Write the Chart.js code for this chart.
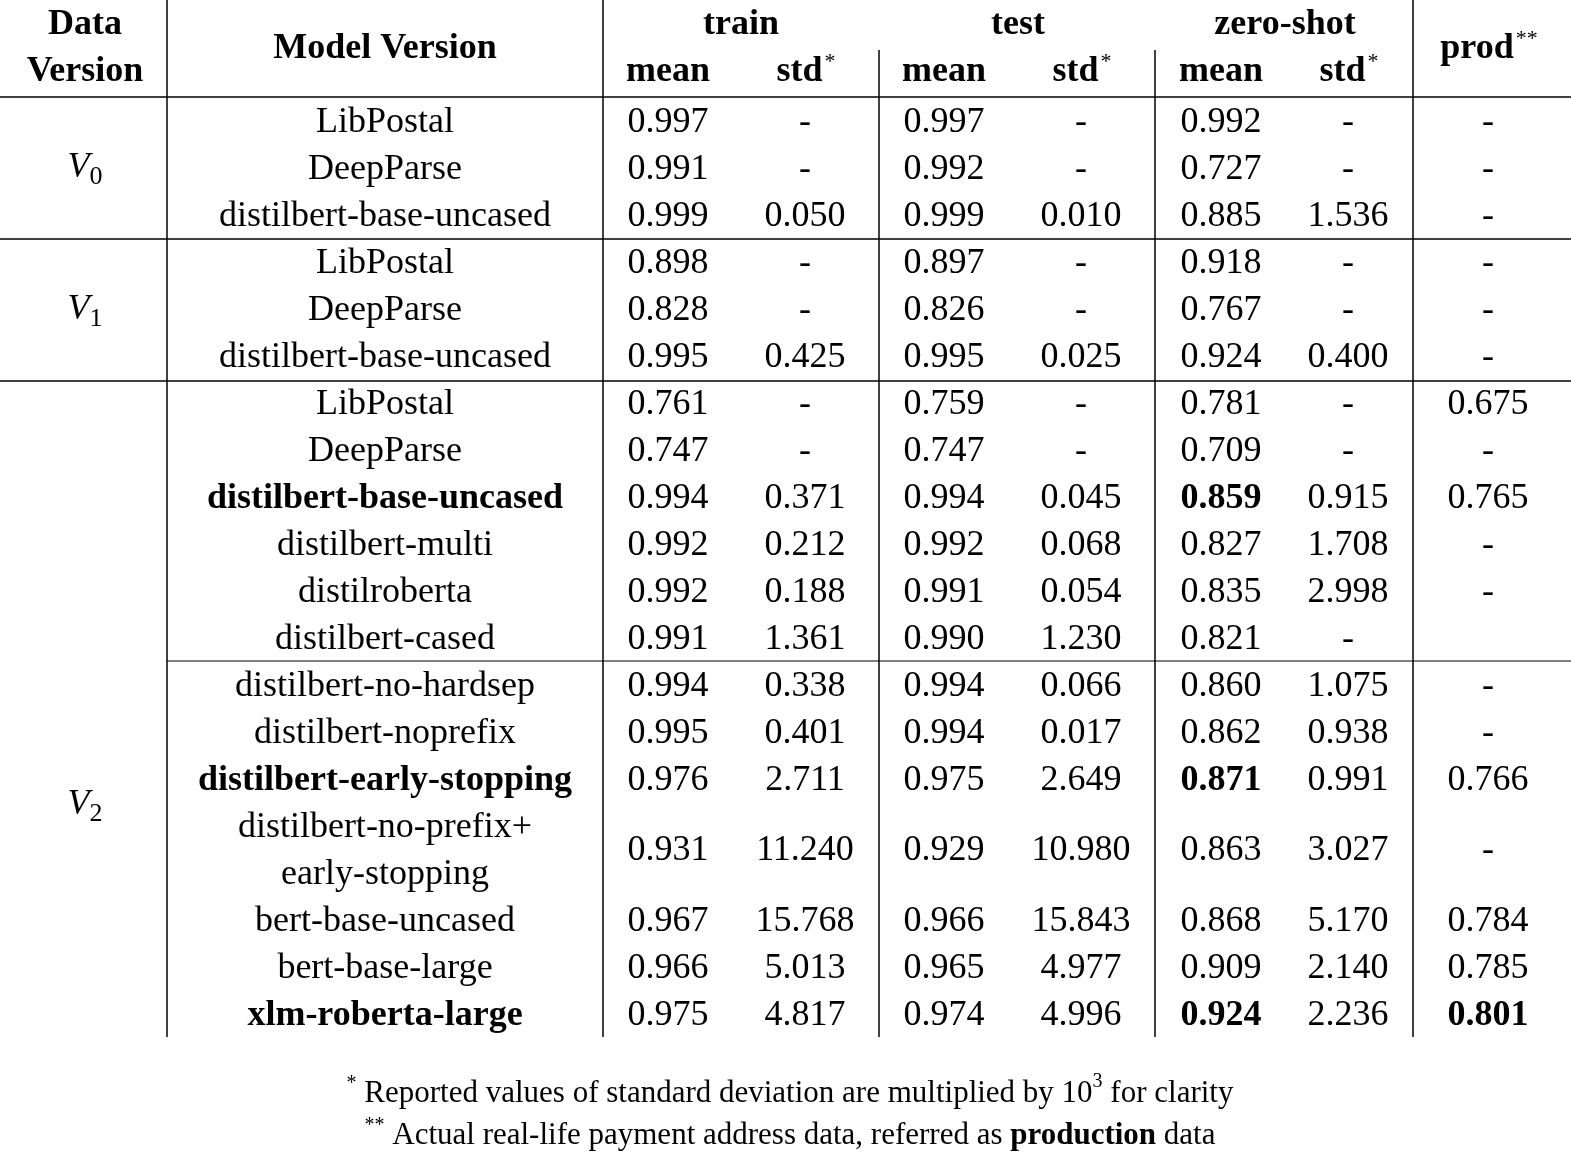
<!DOCTYPE html>
<html><head><meta charset="utf-8">
<script src="https://cdn.jsdelivr.net/npm/chart.js@4"></script>
<style>html,body{margin:0;padding:0;background:#fff}#w{width:1571px;height:1155px}</style>
</head><body><div id="w"><canvas id="c"></canvas></div>
<script>
const dataVersions = ["V0","V1","V2"];
const models = ["LibPostal","DeepParse","distilbert-base-uncased","LibPostal","DeepParse","distilbert-base-uncased","LibPostal","DeepParse","distilbert-base-uncased","distilbert-multi","distilroberta","distilbert-cased","distilbert-no-hardsep","distilbert-noprefix","distilbert-early-stopping","distilbert-no-prefix+\nearly-stopping","bert-base-uncased","bert-base-large","xlm-roberta-large"];
const versionOfRow = [0,0,0,1,1,1,2,2,2,2,2,2,2,2,2,2,2,2,2];
const trainMean = [0.997,0.991,0.999,0.898,0.828,0.995,0.761,0.747,0.994,0.992,0.992,0.991,0.994,0.995,0.976,0.931,0.967,0.966,0.975];
const trainStd = [null,null,0.050,null,null,0.425,null,null,0.371,0.212,0.188,1.361,0.338,0.401,2.711,11.240,15.768,5.013,4.817];
const testMean = [0.997,0.992,0.999,0.897,0.826,0.995,0.759,0.747,0.994,0.992,0.991,0.990,0.994,0.994,0.975,0.929,0.966,0.965,0.974];
const testStd = [null,null,0.010,null,null,0.025,null,null,0.045,0.068,0.054,1.230,0.066,0.017,2.649,10.980,15.843,4.977,4.996];
const zsMean = [0.992,0.727,0.885,0.918,0.767,0.924,0.781,0.709,0.859,0.827,0.835,0.821,0.860,0.862,0.871,0.863,0.868,0.909,0.924];
const zsStd = [null,null,1.536,null,null,0.400,null,null,0.915,1.708,2.998,null,1.075,0.938,0.991,3.027,5.170,2.140,2.236];
const prod = [null,null,null,null,null,null,0.675,null,0.765,null,null,"",null,null,0.766,null,0.784,0.785,0.801];
const boldModelRows = [8,14,18];
const boldZsRows = [8,14,18];
const boldProdRows = [18];

const F = "'Liberation Serif', 'DejaVu Serif', serif";
const FS = 36;
const colX = [85,385,668,805,944,1081,1221,1348,1488];
const vLines = [167,603,879,1155,1413];
const versionLabelY = [168,310,805];
const rowH = r => models[r].includes("\n") ? 94 : 47;

const tablePlugin = {
  id:'table',
  afterDraw(chart){
    const ctx = chart.ctx, xs = chart.scales.x, ys = chart.scales.y;
    const X = v => xs.getPixelForValue(v), Y = v => ys.getPixelForValue(v);
    ctx.save();
    ctx.fillStyle = '#000'; ctx.strokeStyle = '#000';
    ctx.textAlign='center'; ctx.textBaseline='middle';
    const txt = (s,x,y,bold,size=FS)=>{ctx.font=(bold?'bold ':'')+size+'px '+F; ctx.fillText(s,X(x),Y(y+2));};
    const line=(x1,y1,x2,y2,w=1.5)=>{ctx.lineWidth=w;ctx.beginPath();ctx.moveTo(X(x1),Y(y1));ctx.lineTo(X(x2),Y(y2));ctx.stroke();};
    const withSup=(base,sup,x,y)=>{
      ctx.font='bold '+FS+'px '+F; const w1=ctx.measureText(base).width;
      ctx.font='22px '+F; const w2=ctx.measureText(sup).width;
      const sx=X(x)-(w1+w2)/2;
      ctx.textAlign='left';
      ctx.font='bold '+FS+'px '+F; ctx.fillText(base,sx,Y(y+2));
      ctx.font='22px '+F; ctx.fillText(sup,sx+w1+2,Y(y)-8);
      ctx.textAlign='center';
    };
    txt('Data',colX[0],23,true); txt('Version',colX[0],70,true);
    txt('Model Version',colX[1],47,true);
    txt('train',741,23,true); txt('test',1018,23,true); txt('zero-shot',1285,23,true);
    withSup('prod','**',colX[8],47);
    [[2,3],[4,5],[6,7]].forEach(([a,b])=>{txt('mean',colX[a],70,true); withSup('std','*',colX[b],70);});
    line(0,97,1571,97);
    let top=97; const tops=[];
    models.forEach((m,r)=>{
      tops.push(top);
      const h=rowH(r), c=top+h/2;
      const parts=m.split("\n");
      if(parts.length>1){ txt(parts[0],colX[1],c-23,false); txt(parts[1],colX[1],c+24,false);}
      else txt(m,colX[1],c,boldModelRows.includes(r));
      const f=v=>v===null?'-':(v===''?'':v.toFixed(3));
      txt(f(trainMean[r]),colX[2],c); txt(f(trainStd[r]),colX[3],c);
      txt(f(testMean[r]),colX[4],c); txt(f(testStd[r]),colX[5],c);
      txt(f(zsMean[r]),colX[6],c,boldZsRows.includes(r)); txt(f(zsStd[r]),colX[7],c);
      txt(f(prod[r]),colX[8],c,boldProdRows.includes(r));
      top+=h;
    });
    const bottom=top;
    dataVersions.forEach((v,i)=>{
      const rs=versionOfRow.map((g,r)=>g===i?r:-1).filter(r=>r>=0);
      const t0=tops[rs[0]];
      const cy=versionLabelY[i];
      ctx.font='italic '+FS+'px '+F; const w1=ctx.measureText('V').width;
      ctx.font='26px '+F; const w2=ctx.measureText(v[1]).width;
      const sx=X(colX[0])-(w1+w2)/2; ctx.textAlign='left';
      ctx.font='italic '+FS+'px '+F; ctx.fillText('V',sx,Y(cy));
      ctx.font='26px '+F; ctx.fillText(v[1],sx+w1,Y(cy)+9); ctx.textAlign='center';
      if(i>0) line(0,t0+(i===2?2:1),1571,t0+(i===2?2:1));
    });
    line(167,tops[12],1571,tops[12],1);
    line(vLines[0],0,vLines[0],bottom);
    for(let i=1;i<vLines.length;i++) line(vLines[i],50,vLines[i],bottom);
    line(vLines[1],0,vLines[1],50); line(vLines[4],0,vLines[4],50);
    const FF=31;
    ctx.font=FF+'px '+F;
    const p1=' Reported values of standard deviation are multiplied by 10', p3=' for clarity';
    let w=ctx.measureText(p1+p3).width; ctx.font='20px '+F; w+=ctx.measureText('*3').width;
    let x=X(790)-w/2; ctx.textAlign='left';
    ctx.font='20px '+F; ctx.fillText('*',x,Y(1084)); x+=ctx.measureText('*').width;
    ctx.font=FF+'px '+F; ctx.fillText(p1,x,Y(1094)); x+=ctx.measureText(p1).width;
    ctx.font='20px '+F; ctx.fillText('3',x,Y(1082)); x+=ctx.measureText('3').width;
    ctx.font=FF+'px '+F; ctx.fillText(p3,x,Y(1094));
    const q1=' Actual real-life payment address data, referred as ';
    ctx.font='20px '+F; let a=ctx.measureText('**').width;
    ctx.font=FF+'px '+F; let b=ctx.measureText(q1).width, d=ctx.measureText(' data').width;
    ctx.font='bold '+FF+'px '+F; let e=ctx.measureText('production').width;
    x=X(790)-(a+b+d+e)/2;
    ctx.font='20px '+F; ctx.fillText('**',x,Y(1126)); x+=a;
    ctx.font=FF+'px '+F; ctx.fillText(q1,x,Y(1136)); x+=b;
    ctx.font='bold '+FF+'px '+F; ctx.fillText('production',x,Y(1136)); x+=e;
    ctx.font=FF+'px '+F; ctx.fillText(' data',x,Y(1136));
    ctx.restore();
  }
};
new Chart(document.getElementById('c'),{
  type:'scatter',
  data:{datasets:[{data:[]}]},
  options:{responsive:true,maintainAspectRatio:false,animation:false,
    layout:{padding:0},
    plugins:{legend:{display:false},tooltip:{enabled:false}},
    scales:{x:{type:'linear',min:0,max:1571,display:false},y:{type:'linear',min:0,max:1155,reverse:true,display:false}}},
  plugins:[tablePlugin]
});
</script></body></html>
